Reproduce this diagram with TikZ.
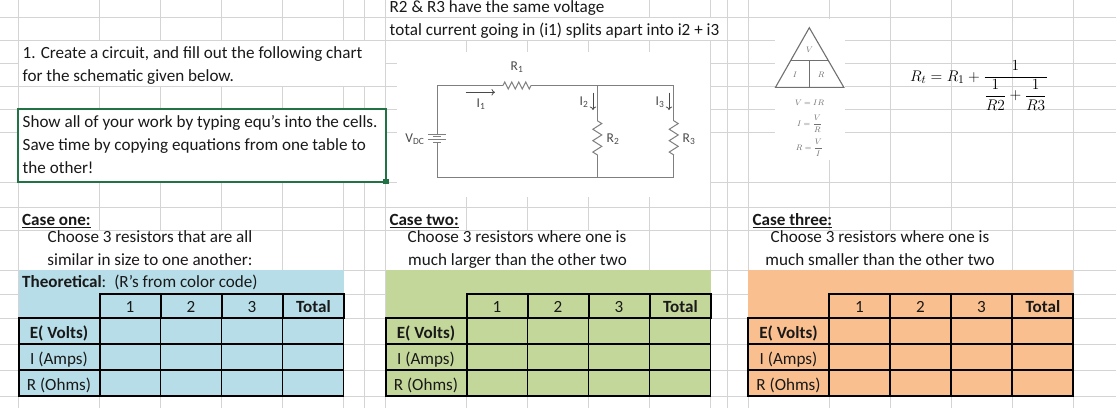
\documentclass[tikz,border=0pt]{standalone}
\usepackage{amsmath}
\usepackage{fontspec}
\setmainfont{Carlito}
\usetikzlibrary{arrows.meta,decorations.pathmorphing}
\definecolor{gridgray}{HTML}{D4D4D4}
\definecolor{xlgreen}{HTML}{217346}
\definecolor{xlblue}{HTML}{B7DEE8}
\definecolor{xlolive}{HTML}{C4D79B}
\definecolor{xlorange}{HTML}{FABF8F}
\definecolor{wiregray}{HTML}{7F7F7F}
\definecolor{labgray}{HTML}{4A4A4A}
\definecolor{picgray}{HTML}{707070}
\tikzset{
	txt/.style={inner sep=0pt,anchor=base west,font=\fontsize{17.1}{20}\selectfont,text=black!90},
	mid/.style={txt,anchor=base},
	blank/.style={fill=white,draw=none},
	thickcell/.style={draw=black,line width=2pt},
	thincell/.style={draw=black,line width=1.1pt},
	wire/.style={draw=wiregray,line width=1pt},
	zigh/.style={wire,decorate,decoration={zigzag,amplitude=3.6pt,segment length=7pt}},
	zigv/.style={wire,decorate,decoration={zigzag,amplitude=4.5pt,segment length=11.4pt}},
	clab/.style={inner sep=0pt,text=labgray,font=\fontsize{13.5}{15}\selectfont},
	tri/.style={draw=picgray,line width=1.1pt},
	trilab/.style={inner sep=0pt,text=picgray,font=\fontsize{8.5}{10}\selectfont}
}
\begin{document}
\begin{tikzpicture}[x=1pt,y=-1pt,>={To[length=3.5pt,width=6.5pt]}]
	\useasboundingbox (0,0) rectangle (1116,408);
	% sheet grid
	\foreach \gx in {18.5,99.5,160.5,221.5,282.5,343.5,364.5,385.5,466.5,527.5,588.5,649.5,710.5,727,748.5,829.5,890.5,951.5,1012.5,1073.5}
		\draw [gridgray,line width=1pt] (\gx,0) -- (\gx,408);
	\foreach \gy in {17.5,40.5,63.5,86.5,109.5,132.5,182,207.5,230.5,270,294,318,344,370,396}
		\draw [gridgray,line width=1pt] (0,\gy) -- (1116,\gy);
	% cells and pictures that hide the grid
	\fill [blank] (19,41) rectangle (385,86);
	\fill [blank] (386,0) rectangle (649,17);
	\fill [blank] (386,18) rectangle (726.5,40);
	\fill [blank] (397,52) rectangle (710,197);
	\fill [blank] (775,18.5) rectangle (845,160);
	\fill [blank] (19,231) rectangle (282,270);
	\fill [blank] (386,231) rectangle (649,270);
	\fill [blank] (749,231) rectangle (1012,270);
	% selected cell
	\draw [xlgreen,fill=white,line width=2pt] (18,109) rectangle (386,182);
	\fill [xlgreen] (383.2,179) rectangle (388.6,184.4);
	% text at the top
	\node (task) at (22.5,58) [txt] {1. Create a circuit, and fill out the following chart};
	\node (taskb) at (22.5,81) [txt] {for the schematic given below.};
	\node (show) at (22.5,127) [txt] {Show all of your work by typing equ's into the cells.};
	\node (save) at (22.5,150) [txt] {Save time by copying equations from one table to};
	\node (other) at (22.5,173) [txt] {the other!};
	\node (same) at (389.5,12) [txt] {R2 \& R3 have the same voltage};
	\node (split) at (389.5,35) [txt] {total current going in (i1) splits apart into i2 + i3};
	% circuit
	\coordinate (tl) at (437,85.5);
	\coordinate (tm) at (597.3,85.5);
	\coordinate (tr) at (673.7,85.5);
	\coordinate (bl) at (437,177.7);
	\coordinate (bm) at (597.3,177.7);
	\coordinate (br) at (673.7,177.7);
	\coordinate (r1a) at (503,85.5);
	\coordinate (r1b) at (531,85.5);
	\coordinate (r2a) at (597.3,120.7);
	\coordinate (r2b) at (597.3,155);
	\coordinate (r3a) at (673.7,120.7);
	\coordinate (r3b) at (673.7,155);
	\coordinate (bata) at (437,134);
	\coordinate (batb) at (437,142);
	\draw [wire] (bata) -- (tl) -- (r1a);
	\draw [zigh] (r1a) -- (r1b);
	\draw [wire] (r1b) -- (tm) -- (tr) -- (r3a);
	\draw [wire] (tm) -- (r2a);
	\draw [zigv] (r2a) -- (r2b);
	\draw [zigv] (r3a) -- (r3b);
	\draw [wire] (r2b) -- (bm);
	\draw [wire] (r3b) -- (br) -- (bl) -- (batb);
	\draw [wire] (428,134) -- (446,134);
	\draw [wire] (433,136.5) -- (441,136.5);
	\draw [wire] (428,139) -- (446,139);
	\draw [wire] (433,142) -- (441,142);
	\coordinate (i1a) at (465.7,92.3);
	\coordinate (i1b) at (495,92.3);
	\coordinate (i2a) at (593,92.7);
	\coordinate (i2b) at (593,110);
	\coordinate (i3a) at (669,92.7);
	\coordinate (i3b) at (669,110);
	\draw [->,draw=labgray,line width=0.8pt] (i1a) -- (i1b);
	\draw [->,draw=labgray,line width=0.8pt] (i2a) -- (i2b);
	\draw [->,draw=labgray,line width=0.8pt] (i3a) -- (i3b);
	\node (r1) at (517,67) [clab] {R\textsubscript{1}};
	\node (i1) at (481,104) [clab] {I\textsubscript{1}};
	\node (i2) at (584,102) [clab] {I\textsubscript{2}};
	\node (i3) at (660,102) [clab] {I\textsubscript{3}};
	\node (r2) at (613,139) [clab] {R\textsubscript{2}};
	\node (r3) at (689,139) [clab] {R\textsubscript{3}};
	\node (vdc) at (415,139) [clab] {V\textsubscript{DC}};
	% ohm triangle
	\coordinate (apex) at (809.3,27.7);
	\coordinate (basel) at (775.5,87.3);
	\coordinate (baser) at (843.8,87.3);
	\coordinate (midl) at (790.7,60.7);
	\coordinate (midr) at (828,60.7);
	\coordinate (midm) at (809.3,60.7);
	\coordinate (basem) at (809.3,87.3);
	\draw [tri] (apex) -- (basel) -- (baser) -- cycle;
	\draw [tri] (midl) -- (midr);
	\draw [tri] (midm) -- (basem);
	\node (triv) at (809.5,49.5) [trilab] {$V$};
	\node (trii) at (795,75) [trilab] {$I$};
	\node (trir) at (821,75) [trilab] {$R$};
	\node (ohma) at (809.5,103) [trilab] {$V=IR$};
	\node (ohmb) at (809.5,124) [trilab] {$I=\dfrac{V}{R}$};
	\node (ohmc) at (809.5,148) [trilab] {$R=\dfrac{V}{I}$};
	% total resistance
	\node (rtotal) at (979,85.5) [inner sep=0pt,scale=1.07,font=\fontsize{15.5}{18}\selectfont] {$R_t=R_1+\dfrac{1}{\dfrac{1}{R2}+\dfrac{1}{R3}}$};
	% the three tables
	\foreach \tx/\tcol/\tname in {18.5/xlblue/a,385.5/xlolive/b,748/xlorange/c} {
		\begin{scope}[xshift=\tx]
			\fill [\tcol] (0,270) rectangle (325,396);
			\foreach \cx in {81,142,203,264} {
				\foreach \cy in {318,344,370}
					\draw [thincell] (\cx,\cy) rectangle ++(61,26);
				\draw [thickcell] (\cx,294) rectangle ++(61,24);
			}
			\foreach \cy in {318,344,370}
				\draw [thickcell] (0,\cy) rectangle ++(81,26);
			\foreach \cx/\chead in {111.5/1,172.5/2,233.5/3}
				\node (h\chead\tname) at (\cx,312) [mid] {\chead};
			\node (total\tname) at (295,312) [mid] {\textbf{Total}};
			\node (volts\tname) at (40.5,338) [mid] {\textbf{E( Volts)}};
			\node (amps\tname) at (40.5,364) [mid] {I (Amps)};
			\node (ohms\tname) at (40.5,390) [mid] {R (Ohms)};
		\end{scope}
	}
	% texts over the tables
	\node (casea) at (22,225) [txt] {\textbf{\underline{Case one:}}};
	\node (chosea) at (150,242) [mid] {Choose 3 resistors that are all};
	\node (chooseb) at (150,265) [mid] {similar in size to one another:};
	\node (theory) at (22,287) [txt] {\textbf{Theoretical}:\, (R's from color code)};
	\node (caseb) at (389.3,225) [txt] {\textbf{\underline{Case two:}}};
	\node (chosec) at (517,242) [mid] {Choose 3 resistors where one is};
	\node (chosed) at (517.5,265) [mid] {much larger than the other two};
	\node (casec) at (752.3,225) [txt] {\textbf{\underline{Case three:}}};
	\node (chosee) at (880,242) [mid] {Choose 3 resistors where one is};
	\node (chosef) at (880,265) [mid] {much smaller than the other two};
\end{tikzpicture}
\end{document}
